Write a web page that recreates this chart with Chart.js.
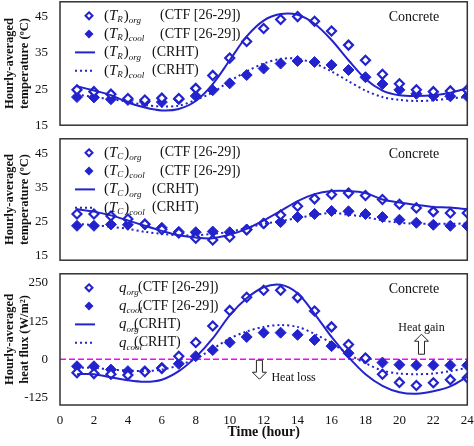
<!DOCTYPE html>
<html>
<head>
<meta charset="utf-8">
<script src="https://cdn.jsdelivr.net/npm/chart.js@4"></script>
<style>
  body { margin: 0; background: #fff; overflow: hidden; }
  .panel { position: relative; width: 474px; }
</style>
</head>
<body>
<div class="panel" style="height:147px;margin-top:-10px"><canvas id="c1"></canvas></div>
<div class="panel" style="height:145px;margin-top:-10px"><canvas id="c2"></canvas></div>
<div class="panel" style="height:179px;margin-top:-10px"><canvas id="c3"></canvas></div>
<script>
const hours = [1,2,3,4,5,6,7,8,9,10,11,12,13,14,15,16,17,18,19,20,21,22,23,24];

// roof temperature
const trOrgCTF = [24.8,24.3,23.6,22.4,22.0,22.5,22.4,25.2,28.8,33.6,38.2,41.8,44.3,45.1,43.8,41.1,37.2,33.0,29.1,26.5,24.8,24.3,24.5,24.8];
const trCoolCTF = [22.8,22.7,22.2,22.0,21.5,21.4,22.2,23.1,24.7,26.6,28.9,30.7,32.1,32.8,32.5,31.7,30.3,28.3,26.4,24.8,23.7,23.1,23.0,23.0];
const trOrgCRHT = [25.8,24.6,23.3,21.3,19.9,19.1,19.5,21.7,26.4,33.0,39.6,44.0,45.8,45.6,43.1,38.6,33.0,27.8,24.6,23.3,23.1,23.3,24.0,25.2];
const trCoolCRHT = [23.5,22.8,22.2,21.5,20.6,20.2,20.4,22.0,24.1,27.2,29.9,32.1,33.4,33.4,32.1,29.9,27.2,24.6,22.8,22.0,21.7,21.9,22.4,22.8];

// ceiling temperature
const tcOrgCTF = [27.2,27.2,26.6,25.7,24.2,22.6,21.6,20.0,19.5,20.4,22.5,24.4,26.9,29.5,31.7,33.0,33.4,32.7,31.5,30.1,29.0,27.9,27.5,27.5];
const tcCoolCTF = [23.7,23.7,24.1,24.0,24.1,23.1,21.9,21.8,22.0,21.8,22.6,24.4,24.8,26.3,27.2,28.1,28.0,27.2,26.3,25.5,24.6,24.0,23.7,23.7];
const tcOrgCRHT = [28.6,27.9,26.8,25.3,23.7,22.2,20.9,20.2,20.0,21.1,22.8,25.3,28.1,31.0,33.1,34.0,34.0,33.4,31.5,30.6,29.9,29.3,29.1,28.6];
const tcCoolCRHT = [24.3,23.9,23.4,22.8,21.9,21.3,20.9,20.9,21.3,21.9,23.1,24.3,25.1,26.0,26.9,27.5,27.0,26.3,25.3,24.6,24.3,24.3,24.3,24.4];

// heat flux
const qOrgCTF = [-44,-47,-49,-52,-41,-30,10,55,109,160,203,226,226,202,158,106,48,4,-49,-76,-86,-77,-67,-61];
const qCoolCTF = [-23,-23,-34,-39,-39,-28,-15,10,30,55,73,87,87,80,63,43,20,2,-11,-18,-20,-20,-20,-20];
const qOrgCRHT = [-49,-49,-59,-69,-74,-67,-39,7,68,144,200,236,244,216,149,73,7,-49,-87,-108,-113,-105,-89,-57];
const qCoolCRHT = [-28,-28,-34,-37,-39,-34,-20,2,34,68,91,106,112,106,83,53,17,-13,-37,-47,-49,-47,-39,-28];

const xTicks = [0,2,4,6,8,10,12,14,16,18,20,22,24];

const BLUE = 'rgb(35,35,205)';
const SERIF = '"Liberation Serif", "DejaVu Serif", serif';

function pts(arr) { return arr.map((v, i) => ({x: hours[i], y: v})); }

function sets(orgCTF, coolCTF, orgCRHT, coolCRHT) {
  return [
    {data: pts(orgCRHT), borderColor: BLUE, borderWidth: 2, pointRadius: 0, tension: 0.3, showLine: true},
    {data: pts(coolCRHT), borderColor: BLUE, borderWidth: 2, borderDash: [2, 3], pointRadius: 0, tension: 0.3, showLine: true},
    {data: pts(orgCTF), showLine: false, pointStyle: 'rectRot', pointRadius: 4.5, borderColor: BLUE, backgroundColor: '#fff', pointBorderWidth: 2.2},
    {data: pts(coolCTF), showLine: false, pointStyle: 'rectRot', pointRadius: 5.5, borderColor: BLUE, backgroundColor: BLUE, pointBorderWidth: 1}
  ];
}

const boxPlugin = {
  id: 'box',
  afterDraw(chart) {
    const {ctx, chartArea: {left, top, width, height}} = chart;
    ctx.save();
    ctx.strokeStyle = '#333';
    ctx.lineWidth = 1.5;
    ctx.strokeRect(left, top, width, height);
    ctx.font = '14px ' + SERIF;
    ctx.fillStyle = '#111';
    ctx.textAlign = 'right';
    ctx.textBaseline = 'middle';
    ctx.fillText('Concrete', left + width - 28, top + 16);
    ctx.restore();
  }
};

// legend with subscripts, drawn by hand
function legendPlugin(sym, sub) {
  return {
    id: 'richLegend',
    afterDraw(chart) {
      const {ctx, chartArea: {left, top}} = chart;
      const rows = [
        {kind: 'open', s: 'org', tag: '(CTF [26-29])'},
        {kind: 'fill', s: 'cool', tag: '(CTF [26-29])'},
        {kind: 'solid', s: 'org', tag: '(CRHT)'},
        {kind: 'dot', s: 'cool', tag: '(CRHT)'}
      ];
      ctx.save();
      rows.forEach((r, i) => {
        const y = top + 14 + i * 18.3;
        const isLine = r.kind === 'solid' || r.kind === 'dot';
        ctx.strokeStyle = BLUE; ctx.fillStyle = BLUE;
        if (!isLine) {
          const cx = left + 29, d = r.kind === 'open' ? 3.5 : 4.5;
          ctx.beginPath();
          ctx.moveTo(cx, y - d); ctx.lineTo(cx + d, y); ctx.lineTo(cx, y + d); ctx.lineTo(cx - d, y); ctx.closePath();
          if (r.kind === 'open') { ctx.lineWidth = 2; ctx.stroke(); } else ctx.fill();
        } else {
          ctx.lineWidth = 2;
          ctx.setLineDash(r.kind === 'dot' ? [2, 3] : []);
          ctx.beginPath(); ctx.moveTo(left + 15, y); ctx.lineTo(left + 35, y); ctx.stroke();
          ctx.setLineDash([]);
        }
        ctx.fillStyle = '#111';
        ctx.textBaseline = 'middle';
        ctx.textAlign = 'left';
        let x = left + 44;
        let tagX;
        if (sym) {
          ctx.font = '15px ' + SERIF; ctx.fillText('(', x, y); x += ctx.measureText('(').width;
          ctx.font = 'italic 15px ' + SERIF; ctx.fillText('T', x, y); x += ctx.measureText('T').width;
          ctx.font = 'italic 9px ' + SERIF; ctx.fillText(sub, x, y + 4); x += ctx.measureText(sub).width + 1;
          ctx.font = '15px ' + SERIF; ctx.fillText(')', x, y); x += ctx.measureText(')').width;
          ctx.font = 'italic 9px ' + SERIF; ctx.fillText(r.s, x, y + 5); x += ctx.measureText(r.s).width;
          tagX = left + (isLine ? 92 : 100);
        } else {
          x += 15;
          ctx.font = 'italic 15px ' + SERIF; ctx.fillText('q', x, y); x += ctx.measureText('q').width;
          ctx.font = 'italic 9px ' + SERIF; ctx.fillText(r.s, x, y + 5);
          tagX = left + (isLine ? 74 : 78);
        }
        ctx.font = '14px ' + SERIF;
        ctx.fillText(r.tag, tagX, y);
      });
      ctx.restore();
    }
  };
}

const heatPlugin = {
  id: 'heat',
  beforeDatasetsDraw(chart) {
    const {ctx, chartArea: {left, right}, scales: {y}} = chart;
    ctx.save();
    ctx.strokeStyle = '#ff00ff';
    ctx.lineWidth = 1.5;
    ctx.setLineDash([6, 3]);
    ctx.beginPath(); ctx.moveTo(left, y.getPixelForValue(0)); ctx.lineTo(right, y.getPixelForValue(0)); ctx.stroke();
    ctx.restore();
  },
  afterDraw(chart) {
    const {ctx, scales: {x, y}} = chart;
    const y0 = y.getPixelForValue(0);
    ctx.save();
    ctx.strokeStyle = '#222'; ctx.fillStyle = '#fff'; ctx.lineWidth = 1;
    function arrow(cx, yStart, yEnd) {
      const dir = Math.sign(yEnd - yStart);
      const hy = yEnd - dir * 7;
      ctx.beginPath();
      ctx.moveTo(cx - 3, yStart); ctx.lineTo(cx + 3, yStart); ctx.lineTo(cx + 3, hy);
      ctx.lineTo(cx + 7, hy); ctx.lineTo(cx, yEnd); ctx.lineTo(cx - 7, hy); ctx.lineTo(cx - 3, hy);
      ctx.closePath(); ctx.fill(); ctx.stroke();
    }
    const xl = x.getPixelForValue(11.75), xg = x.getPixelForValue(21.3);
    arrow(xl, y0 + 1, y0 + 20);
    arrow(xg, y0 - 5, y0 - 25);
    ctx.fillStyle = '#111'; ctx.font = '12px ' + SERIF; ctx.textBaseline = 'middle';
    ctx.textAlign = 'left'; ctx.fillText('Heat loss', xl + 12, y0 + 19);
    ctx.textAlign = 'center'; ctx.fillText('Heat gain', xg, y0 - 31);
    ctx.restore();
  }
};

function makeChart(id, datasets, yMin, yMax, yTicks, yTitle, bottom, extra) {
  return new Chart(document.getElementById(id), {
    type: 'scatter',
    data: {datasets},
    options: {
      responsive: true,
      maintainAspectRatio: false,
      animation: false,
      layout: {padding: {top: id === 'c1' ? 2 : 0, right: 2, left: 2, bottom: 0}},
      plugins: {legend: {display: false}, tooltip: {enabled: false}},
      scales: {
        x: {
          type: 'linear', min: 0, max: 24,
          grid: {display: false, drawOnChartArea: false},
          border: {display: false},
          afterBuildTicks: s => { s.ticks = xTicks.map(v => ({value: v})); },
          ticks: {display: bottom, color: '#111', font: {family: SERIF, size: 13}, maxRotation: 0, padding: 0},
          title: {display: bottom, text: 'Time (hour)', color: '#111', font: {family: SERIF, size: 14, weight: 'bold'}, padding: {top: 2, bottom: 0}},
          afterFit: s => { s.height = bottom ? 36 : 0; }
        },
        y: {
          min: yMin, max: yMax,
          grid: {display: false},
          border: {display: false},
          afterBuildTicks: s => { s.ticks = yTicks.map(v => ({value: v})); },
          ticks: {color: '#111', font: {family: SERIF, size: 13}, padding: 4},
          title: {display: true, text: yTitle, color: '#111', font: {family: SERIF, size: 12.5, weight: 'bold'}, padding: 0},
          afterFit: s => { s.width = 58; }
        }
      }
    },
    plugins: [boxPlugin].concat(extra)
  });
}

makeChart('c1', sets(trOrgCTF, trCoolCTF, trOrgCRHT, trCoolCRHT), 15, 49.2, [15, 25, 35, 45],
  ['Hourly-averaged', 'temperature (ºC)'], false, [legendPlugin(true, 'R')]);
makeChart('c2', sets(tcOrgCTF, tcCoolCTF, tcOrgCRHT, tcCoolCRHT), 13.5, 49.5, [15, 25, 35, 45],
  ['Hourly-averaged', 'temperature (ºC)'], false, [legendPlugin(true, 'C')]);
makeChart('c3', sets(qOrgCTF, qCoolCTF, qOrgCRHT, qCoolCRHT), -150, 280, [-125, 0, 125, 250],
  ['Hourly-averaged', 'heat flux (W/m²)'], true, [legendPlugin(false), heatPlugin]);
</script>
</body>
</html>
